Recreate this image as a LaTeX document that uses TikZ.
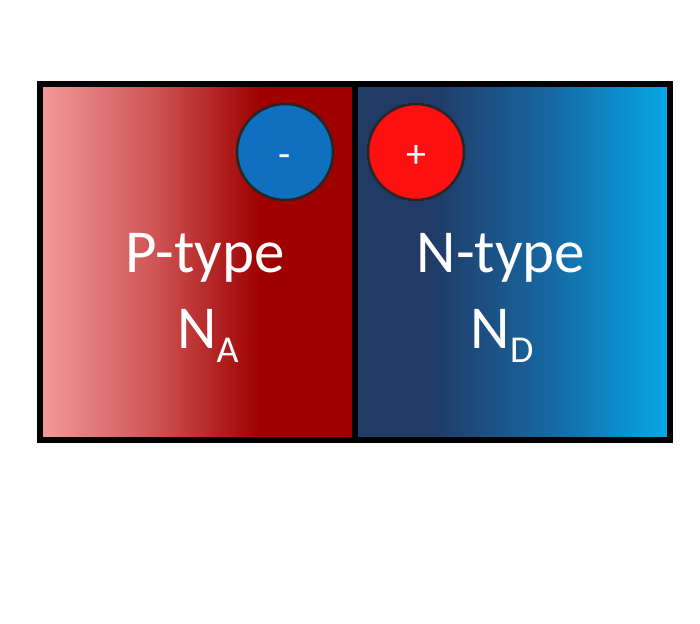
\documentclass[tikz,border=0pt]{standalone}
\usepackage{fontspec}
\setmainfont{Carlito}
\definecolor{rl}{HTML}{F49A9A}
\definecolor{rm}{HTML}{CF5555}
\definecolor{rd}{HTML}{9E0000}
\definecolor{bd}{HTML}{213A66}
\definecolor{bm}{HTML}{1668A2}
\definecolor{bl}{HTML}{06A8E8}
\definecolor{cblue}{HTML}{1070C0}
\definecolor{cred}{HTML}{FF1010}
\pgfdeclarehorizontalshading{redsh}{100bp}{color(0bp)=(rl); color(25bp)=(rl); color(43bp)=(rm); color(60bp)=(rd); color(75bp)=(rd); color(100bp)=(rd)}
\pgfdeclarehorizontalshading{bluesh}{100bp}{color(0bp)=(bd); color(25bp)=(bd); color(37bp)=(bd); color(56bp)=(bm); color(75bp)=(bl); color(100bp)=(bl)}
\tikzset{
  lbl/.style={text=white, font=\fontsize{61}{64}\selectfont, align=center, inner sep=0pt},
  carrier/.style={circle, draw=black!85, line width=2.5pt, minimum size=96pt, inner sep=0pt, text=white, font=\fontsize{40}{40}\selectfont, text height=30pt, text depth=0pt}
}
\newcommand{\subtxt}[1]{\raisebox{-0.24em}{\fontsize{38}{38}\selectfont #1}}
\begin{document}
\begin{tikzpicture}[x=1pt,y=-1pt]
\useasboundingbox (0,0) rectangle (700,623);
\fill[white] (0,0) rectangle (700,623);
\shade[shading=redsh] (40,84) rectangle (355,440);
\shade[shading=bluesh] (355,84) rectangle (670,440);
\draw[line width=6pt] (40,84) rectangle (670,440);
\draw[line width=6pt] (355,84) -- (355,440);
\node[carrier, fill=cblue] (minus) at (285,152) {-};
\node[carrier, fill=cred] (plus) at (416,152) {+};
\node[lbl, anchor=base] (ptype) at (205,272) {P-type};
\node[lbl, anchor=base] (ntype) at (501,272) {N-type};
\node[lbl, anchor=base] (na) at (208,348) {N\subtxt{A}};
\node[lbl, anchor=base] (nd) at (502,348) {N\subtxt{D}};
\end{tikzpicture}
\end{document}
